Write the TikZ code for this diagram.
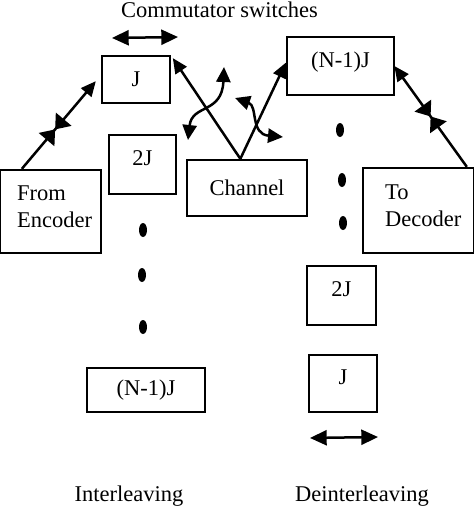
\documentclass[tikz,border=0pt]{standalone}
\usepackage{fontspec}
\setmainfont{Liberation Serif}
\usepackage{tikz}
\usetikzlibrary{arrows.meta, decorations.markings}

\tikzset{
  box/.style={draw=black, line width=1.4pt, inner sep=0pt, font=\fontsize{13.5}{16}\selectfont},
  raised/.style={text depth=8pt},
  twoline/.style={align=left, text width=40pt, text depth=22pt},
  link/.style={line width=1.5pt, -{Triangle[length=9pt,width=8pt]}},
  swap/.style={line width=1.5pt, {Triangle[length=10pt,width=9pt]}-{Triangle[length=10pt,width=9pt]}},
  turn/.style={line width=1.5pt, {Triangle[length=9pt,width=8.5pt]}-{Triangle[length=9pt,width=8.5pt]}},
  bowtie/.style={postaction={decorate}, decoration={markings,
      mark=at position #1 with {\arrow{Triangle[length=8pt,width=12pt]}\arrowreversed{Triangle[length=8pt,width=12pt]}}}},
  caption/.style={font=\fontsize{13.5}{16}\selectfont}
}

\begin{document}
\begin{tikzpicture}[x=0.6pt, y=-0.6pt]
      \useasboundingbox (0,0) rectangle (474,507);
      % interleaving side
      \node[box, minimum width=40.8pt, minimum height=28.2pt] (jA) at (136,79.5) {J};
      \node[box, raised, minimum width=40.2pt, minimum height=35.4pt] (twoA) at (142.5,164.5) {2J};
      \node[box, minimum width=70.8pt, minimum height=26.4pt] (nA) at (146,390) {(N-1)J};
      \node[box, twoline, minimum width=60.6pt, minimum height=49.8pt] (enc) at (50.5,211.5) {From\\Encoder};
      \fill (143,230) ellipse [x radius=2.4pt, y radius=4.2pt];
      \fill (142,275) ellipse [x radius=2.4pt, y radius=4.2pt];
      \fill (143,327) ellipse [x radius=2.4pt, y radius=4.2pt];
      % channel
      \node[box, minimum width=72pt, minimum height=33.6pt] (chan) at (247,188) {Channel};
      % deinterleaving side
      \node[box, raised, minimum width=64.2pt, minimum height=34.8pt] (nB) at (340.5,66) {(N-1)J};
      \node[box, raised, minimum width=41.4pt, minimum height=35.4pt] (twoB) at (341.5,295.5) {2J};
      \node[box, raised, minimum width=40.8pt, minimum height=34.2pt] (jB) at (343,383.5) {J};
      \node[box, twoline, minimum width=66.6pt, minimum height=51pt] (dec) at (418.5,210.5) {To\\Decoder};
      \fill (340,130) ellipse [x radius=2.4pt, y radius=4.2pt];
      \fill (342,180) ellipse [x radius=2.4pt, y radius=4.2pt];
      \fill (343,223) ellipse [x radius=2.4pt, y radius=4.2pt];
      % connectors
      \draw[link, bowtie=0.45] ([xshift=13.8pt]enc.north west) -- ([xshift=-3pt,yshift=-1pt]jA.west);
      \draw[link] ([xshift=-4pt]chan.north) -- ([xshift=1pt,yshift=-2pt]jA.north east);
      \draw[link] ([xshift=-4pt]chan.north) -- ([yshift=2pt]nB.west);
      \draw[link, bowtie=0.5] ([xshift=-5pt]dec.north east) -- ([xshift=-0.5pt]nB.east);
      % commutator switches
      \draw[swap] (112,38) -- (178,37);
      \draw[swap] (310,438) -- (378,437);
      \draw[turn] (188,140) .. controls (192,104) and (222,114) .. (224,67);
      \draw[turn] (235,98) .. controls (258,106) and (250,134) .. (283,137);
      \node[caption] (top) at (219.5,10) {Commutator switches};
      \node[caption] (il) at (129,496) {Interleaving};
      \node[caption] (dil) at (362,496) {Deinterleaving};
    \end{tikzpicture}
\end{document}
